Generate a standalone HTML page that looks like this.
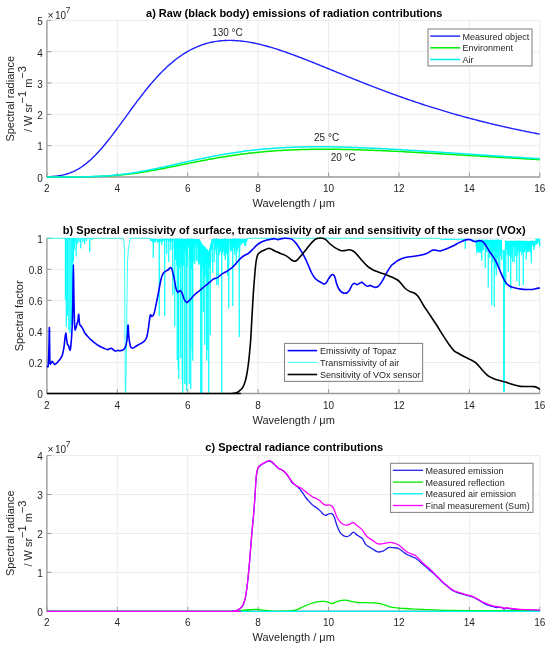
<!DOCTYPE html>
<html><head><meta charset="utf-8"><title>Spectral radiance plots</title>
<style>html,body{margin:0;padding:0;background:#fff;width:550px;height:649px;overflow:hidden}svg text{font-family:'Liberation Sans',Arial,Helvetica,sans-serif}</style>
</head><body>
<svg width="550" height="649" viewBox="0 0 550 649" style="display:block;font-family:'Liberation Sans',Arial,Helvetica,sans-serif"><rect width="550" height="649" fill="#fff"/>
<line x1="117.31" y1="20.4" x2="117.31" y2="177" stroke="#ececec" stroke-width="1"/>
<line x1="187.73" y1="20.4" x2="187.73" y2="177" stroke="#ececec" stroke-width="1"/>
<line x1="258.14" y1="20.4" x2="258.14" y2="177" stroke="#ececec" stroke-width="1"/>
<line x1="328.56" y1="20.4" x2="328.56" y2="177" stroke="#ececec" stroke-width="1"/>
<line x1="398.97" y1="20.4" x2="398.97" y2="177" stroke="#ececec" stroke-width="1"/>
<line x1="469.39" y1="20.4" x2="469.39" y2="177" stroke="#ececec" stroke-width="1"/>
<line x1="539.8" y1="20.4" x2="539.8" y2="177" stroke="#ececec" stroke-width="1"/>
<line x1="46.9" y1="145.68" x2="539.8" y2="145.68" stroke="#ececec" stroke-width="1"/>
<line x1="46.9" y1="114.36" x2="539.8" y2="114.36" stroke="#ececec" stroke-width="1"/>
<line x1="46.9" y1="83.04" x2="539.8" y2="83.04" stroke="#ececec" stroke-width="1"/>
<line x1="46.9" y1="51.72" x2="539.8" y2="51.72" stroke="#ececec" stroke-width="1"/>
<line x1="46.9" y1="20.4" x2="539.8" y2="20.4" stroke="#ececec" stroke-width="1"/>
<line x1="46.9" y1="20.4" x2="46.9" y2="177" stroke="#9a9a9a" stroke-width="1.4"/>
<line x1="46.9" y1="177" x2="539.8" y2="177" stroke="#9a9a9a" stroke-width="1.4"/>
<line x1="46.9" y1="177" x2="46.9" y2="172.5" stroke="#9a9a9a" stroke-width="1"/>
<line x1="117.31" y1="177" x2="117.31" y2="172.5" stroke="#9a9a9a" stroke-width="1"/>
<line x1="187.73" y1="177" x2="187.73" y2="172.5" stroke="#9a9a9a" stroke-width="1"/>
<line x1="258.14" y1="177" x2="258.14" y2="172.5" stroke="#9a9a9a" stroke-width="1"/>
<line x1="328.56" y1="177" x2="328.56" y2="172.5" stroke="#9a9a9a" stroke-width="1"/>
<line x1="398.97" y1="177" x2="398.97" y2="172.5" stroke="#9a9a9a" stroke-width="1"/>
<line x1="469.39" y1="177" x2="469.39" y2="172.5" stroke="#9a9a9a" stroke-width="1"/>
<line x1="539.8" y1="177" x2="539.8" y2="172.5" stroke="#9a9a9a" stroke-width="1"/>
<line x1="46.9" y1="177" x2="51.4" y2="177" stroke="#9a9a9a" stroke-width="1"/>
<line x1="46.9" y1="145.68" x2="51.4" y2="145.68" stroke="#9a9a9a" stroke-width="1"/>
<line x1="46.9" y1="114.36" x2="51.4" y2="114.36" stroke="#9a9a9a" stroke-width="1"/>
<line x1="46.9" y1="83.04" x2="51.4" y2="83.04" stroke="#9a9a9a" stroke-width="1"/>
<line x1="46.9" y1="51.72" x2="51.4" y2="51.72" stroke="#9a9a9a" stroke-width="1"/>
<line x1="46.9" y1="20.4" x2="51.4" y2="20.4" stroke="#9a9a9a" stroke-width="1"/>
<path d="M46.9,176.79 L48.54,176.72 L50.19,176.63 L51.83,176.52 L53.47,176.39 L55.12,176.23 L56.76,176.04 L58.4,175.81 L60.04,175.54 L61.69,175.23 L63.33,174.87 L64.97,174.47 L66.62,174.01 L68.26,173.49 L69.9,172.91 L71.55,172.27 L73.19,171.57 L74.83,170.8 L76.47,169.96 L78.12,169.05 L79.76,168.06 L81.4,167.01 L83.05,165.88 L84.69,164.68 L86.33,163.41 L87.97,162.06 L89.62,160.65 L91.26,159.16 L92.9,157.61 L94.55,155.99 L96.19,154.31 L97.83,152.57 L99.48,150.77 L101.12,148.92 L102.76,147.01 L104.41,145.06 L106.05,143.05 L107.69,141.01 L109.33,138.93 L110.98,136.81 L112.62,134.67 L114.26,132.49 L115.91,130.29 L117.55,128.08 L119.19,125.84 L120.83,123.59 L122.48,121.34 L124.12,119.07 L125.76,116.81 L127.41,114.55 L129.05,112.29 L130.69,110.03 L132.34,107.79 L133.98,105.56 L135.62,103.35 L137.26,101.15 L138.91,98.98 L140.55,96.83 L142.19,94.71 L143.84,92.61 L145.48,90.55 L147.12,88.51 L148.77,86.51 L150.41,84.55 L152.05,82.62 L153.69,80.73 L155.34,78.87 L156.98,77.06 L158.62,75.29 L160.27,73.57 L161.91,71.88 L163.55,70.24 L165.2,68.65 L166.84,67.1 L168.48,65.6 L170.12,64.14 L171.77,62.73 L173.41,61.36 L175.05,60.04 L176.7,58.77 L178.34,57.54 L179.98,56.36 L181.63,55.23 L183.27,54.14 L184.91,53.1 L186.56,52.1 L188.2,51.15 L189.84,50.25 L191.48,49.39 L193.13,48.57 L194.77,47.79 L196.41,47.06 L198.06,46.37 L199.7,45.72 L201.34,45.12 L202.99,44.55 L204.63,44.02 L206.27,43.53 L207.91,43.08 L209.56,42.67 L211.2,42.3 L212.84,41.96 L214.49,41.65 L216.13,41.39 L217.77,41.15 L219.42,40.95 L221.06,40.78 L222.7,40.64 L224.34,40.53 L225.99,40.46 L227.63,40.41 L229.27,40.39 L230.92,40.4 L232.56,40.44 L234.2,40.5 L235.84,40.59 L237.49,40.7 L239.13,40.84 L240.77,41 L242.42,41.18 L244.06,41.39 L245.7,41.62 L247.35,41.87 L248.99,42.14 L250.63,42.42 L252.27,42.73 L253.92,43.06 L255.56,43.4 L257.2,43.76 L258.85,44.14 L260.49,44.53 L262.13,44.94 L263.78,45.36 L265.42,45.8 L267.06,46.25 L268.7,46.71 L270.35,47.19 L271.99,47.67 L273.63,48.17 L275.28,48.68 L276.92,49.2 L278.56,49.74 L280.21,50.28 L281.85,50.83 L283.49,51.39 L285.13,51.95 L286.78,52.53 L288.42,53.11 L290.06,53.7 L291.71,54.3 L293.35,54.9 L294.99,55.51 L296.64,56.13 L298.28,56.75 L299.92,57.37 L301.56,58 L303.21,58.64 L304.85,59.28 L306.49,59.92 L308.14,60.57 L309.78,61.22 L311.42,61.87 L313.07,62.52 L314.71,63.18 L316.35,63.84 L317.99,64.51 L319.64,65.17 L321.28,65.84 L322.92,66.5 L324.57,67.17 L326.21,67.84 L327.85,68.51 L329.5,69.18 L331.14,69.85 L332.78,70.52 L334.42,71.19 L336.07,71.86 L337.71,72.53 L339.35,73.2 L341,73.87 L342.64,74.54 L344.28,75.21 L345.93,75.88 L347.57,76.54 L349.21,77.21 L350.85,77.87 L352.5,78.53 L354.14,79.19 L355.78,79.85 L357.43,80.51 L359.07,81.16 L360.71,81.81 L362.36,82.46 L364,83.11 L365.64,83.76 L367.28,84.4 L368.93,85.04 L370.57,85.68 L372.21,86.32 L373.86,86.95 L375.5,87.58 L377.14,88.21 L378.79,88.84 L380.43,89.46 L382.07,90.08 L383.71,90.7 L385.36,91.31 L387,91.92 L388.64,92.53 L390.29,93.13 L391.93,93.73 L393.57,94.33 L395.22,94.93 L396.86,95.52 L398.5,96.11 L400.14,96.69 L401.79,97.27 L403.43,97.85 L405.07,98.43 L406.72,99 L408.36,99.57 L410,100.13 L411.65,100.69 L413.29,101.25 L414.93,101.8 L416.57,102.36 L418.22,102.9 L419.86,103.45 L421.5,103.99 L423.15,104.52 L424.79,105.06 L426.43,105.59 L428.08,106.11 L429.72,106.64 L431.36,107.16 L433,107.67 L434.65,108.18 L436.29,108.69 L437.93,109.2 L439.58,109.7 L441.22,110.2 L442.86,110.69 L444.51,111.18 L446.15,111.67 L447.79,112.16 L449.43,112.64 L451.08,113.11 L452.72,113.59 L454.36,114.06 L456.01,114.53 L457.65,114.99 L459.29,115.45 L460.94,115.91 L462.58,116.36 L464.22,116.81 L465.87,117.26 L467.51,117.7 L469.15,118.14 L470.79,118.58 L472.44,119.01 L474.08,119.44 L475.72,119.87 L477.37,120.29 L479.01,120.71 L480.65,121.13 L482.29,121.54 L483.94,121.95 L485.58,122.36 L487.22,122.77 L488.87,123.17 L490.51,123.57 L492.15,123.96 L493.8,124.35 L495.44,124.74 L497.08,125.13 L498.72,125.51 L500.37,125.89 L502.01,126.27 L503.65,126.64 L505.3,127.01 L506.94,127.38 L508.58,127.75 L510.23,128.11 L511.87,128.47 L513.51,128.83 L515.15,129.18 L516.8,129.53 L518.44,129.88 L520.08,130.23 L521.73,130.57 L523.37,130.91 L525.01,131.25 L526.66,131.58 L528.3,131.91 L529.94,132.24 L531.59,132.57 L533.23,132.89 L534.87,133.21 L536.51,133.53 L538.16,133.85 L539.8,134.16" fill="none" stroke="#1f1fff" stroke-width="1.4"/>
<path d="M46.9,177 L48.54,177 L50.19,177 L51.83,177 L53.47,177 L55.12,177 L56.76,177 L58.4,177 L60.04,176.99 L61.69,176.99 L63.33,176.99 L64.97,176.99 L66.62,176.98 L68.26,176.98 L69.9,176.97 L71.55,176.97 L73.19,176.96 L74.83,176.95 L76.47,176.94 L78.12,176.92 L79.76,176.91 L81.4,176.89 L83.05,176.87 L84.69,176.84 L86.33,176.81 L87.97,176.78 L89.62,176.75 L91.26,176.71 L92.9,176.66 L94.55,176.61 L96.19,176.56 L97.83,176.5 L99.48,176.43 L101.12,176.36 L102.76,176.28 L104.41,176.2 L106.05,176.11 L107.69,176.01 L109.33,175.91 L110.98,175.79 L112.62,175.67 L114.26,175.55 L115.91,175.41 L117.55,175.27 L119.19,175.12 L120.83,174.96 L122.48,174.8 L124.12,174.62 L125.76,174.44 L127.41,174.25 L129.05,174.06 L130.69,173.85 L132.34,173.64 L133.98,173.42 L135.62,173.2 L137.26,172.96 L138.91,172.72 L140.55,172.47 L142.19,172.22 L143.84,171.96 L145.48,171.69 L147.12,171.42 L148.77,171.14 L150.41,170.86 L152.05,170.57 L153.69,170.27 L155.34,169.98 L156.98,169.67 L158.62,169.37 L160.27,169.06 L161.91,168.74 L163.55,168.42 L165.2,168.1 L166.84,167.78 L168.48,167.45 L170.12,167.13 L171.77,166.8 L173.41,166.46 L175.05,166.13 L176.7,165.8 L178.34,165.46 L179.98,165.13 L181.63,164.79 L183.27,164.46 L184.91,164.13 L186.56,163.79 L188.2,163.46 L189.84,163.13 L191.48,162.8 L193.13,162.47 L194.77,162.14 L196.41,161.81 L198.06,161.49 L199.7,161.17 L201.34,160.85 L202.99,160.54 L204.63,160.22 L206.27,159.91 L207.91,159.61 L209.56,159.3 L211.2,159 L212.84,158.71 L214.49,158.41 L216.13,158.12 L217.77,157.84 L219.42,157.56 L221.06,157.28 L222.7,157.01 L224.34,156.74 L225.99,156.48 L227.63,156.22 L229.27,155.97 L230.92,155.72 L232.56,155.47 L234.2,155.23 L235.84,155 L237.49,154.77 L239.13,154.54 L240.77,154.32 L242.42,154.1 L244.06,153.89 L245.7,153.69 L247.35,153.49 L248.99,153.29 L250.63,153.1 L252.27,152.91 L253.92,152.73 L255.56,152.56 L257.2,152.39 L258.85,152.22 L260.49,152.06 L262.13,151.9 L263.78,151.75 L265.42,151.61 L267.06,151.47 L268.7,151.33 L270.35,151.2 L271.99,151.07 L273.63,150.95 L275.28,150.83 L276.92,150.72 L278.56,150.61 L280.21,150.5 L281.85,150.41 L283.49,150.31 L285.13,150.22 L286.78,150.13 L288.42,150.05 L290.06,149.97 L291.71,149.9 L293.35,149.83 L294.99,149.77 L296.64,149.71 L298.28,149.65 L299.92,149.6 L301.56,149.55 L303.21,149.5 L304.85,149.46 L306.49,149.42 L308.14,149.39 L309.78,149.36 L311.42,149.33 L313.07,149.3 L314.71,149.28 L316.35,149.27 L317.99,149.25 L319.64,149.24 L321.28,149.23 L322.92,149.23 L324.57,149.23 L326.21,149.23 L327.85,149.23 L329.5,149.24 L331.14,149.25 L332.78,149.27 L334.42,149.28 L336.07,149.3 L337.71,149.32 L339.35,149.34 L341,149.37 L342.64,149.4 L344.28,149.43 L345.93,149.46 L347.57,149.5 L349.21,149.53 L350.85,149.57 L352.5,149.62 L354.14,149.66 L355.78,149.71 L357.43,149.75 L359.07,149.8 L360.71,149.85 L362.36,149.91 L364,149.96 L365.64,150.02 L367.28,150.08 L368.93,150.14 L370.57,150.2 L372.21,150.26 L373.86,150.33 L375.5,150.39 L377.14,150.46 L378.79,150.53 L380.43,150.6 L382.07,150.67 L383.71,150.75 L385.36,150.82 L387,150.9 L388.64,150.97 L390.29,151.05 L391.93,151.13 L393.57,151.21 L395.22,151.29 L396.86,151.37 L398.5,151.45 L400.14,151.54 L401.79,151.62 L403.43,151.71 L405.07,151.79 L406.72,151.88 L408.36,151.97 L410,152.06 L411.65,152.15 L413.29,152.24 L414.93,152.33 L416.57,152.42 L418.22,152.51 L419.86,152.6 L421.5,152.69 L423.15,152.79 L424.79,152.88 L426.43,152.97 L428.08,153.07 L429.72,153.16 L431.36,153.26 L433,153.35 L434.65,153.45 L436.29,153.55 L437.93,153.64 L439.58,153.74 L441.22,153.84 L442.86,153.94 L444.51,154.03 L446.15,154.13 L447.79,154.23 L449.43,154.33 L451.08,154.43 L452.72,154.52 L454.36,154.62 L456.01,154.72 L457.65,154.82 L459.29,154.92 L460.94,155.02 L462.58,155.12 L464.22,155.22 L465.87,155.32 L467.51,155.42 L469.15,155.52 L470.79,155.61 L472.44,155.71 L474.08,155.81 L475.72,155.91 L477.37,156.01 L479.01,156.11 L480.65,156.21 L482.29,156.31 L483.94,156.41 L485.58,156.5 L487.22,156.6 L488.87,156.7 L490.51,156.8 L492.15,156.9 L493.8,156.99 L495.44,157.09 L497.08,157.19 L498.72,157.29 L500.37,157.38 L502.01,157.48 L503.65,157.58 L505.3,157.67 L506.94,157.77 L508.58,157.87 L510.23,157.96 L511.87,158.06 L513.51,158.15 L515.15,158.25 L516.8,158.34 L518.44,158.44 L520.08,158.53 L521.73,158.62 L523.37,158.72 L525.01,158.81 L526.66,158.9 L528.3,159 L529.94,159.09 L531.59,159.18 L533.23,159.27 L534.87,159.36 L536.51,159.45 L538.16,159.55 L539.8,159.64" fill="none" stroke="#00ee00" stroke-width="1.5"/>
<path d="M46.9,177 L48.54,177 L50.19,177 L51.83,177 L53.47,177 L55.12,177 L56.76,177 L58.4,176.99 L60.04,176.99 L61.69,176.99 L63.33,176.99 L64.97,176.98 L66.62,176.98 L68.26,176.97 L69.9,176.96 L71.55,176.96 L73.19,176.94 L74.83,176.93 L76.47,176.92 L78.12,176.9 L79.76,176.88 L81.4,176.85 L83.05,176.83 L84.69,176.79 L86.33,176.76 L87.97,176.72 L89.62,176.67 L91.26,176.62 L92.9,176.57 L94.55,176.51 L96.19,176.44 L97.83,176.36 L99.48,176.28 L101.12,176.19 L102.76,176.1 L104.41,176 L106.05,175.88 L107.69,175.77 L109.33,175.64 L110.98,175.5 L112.62,175.36 L114.26,175.21 L115.91,175.05 L117.55,174.88 L119.19,174.7 L120.83,174.51 L122.48,174.31 L124.12,174.11 L125.76,173.89 L127.41,173.67 L129.05,173.44 L130.69,173.2 L132.34,172.95 L133.98,172.7 L135.62,172.44 L137.26,172.16 L138.91,171.89 L140.55,171.6 L142.19,171.31 L143.84,171.01 L145.48,170.7 L147.12,170.39 L148.77,170.07 L150.41,169.74 L152.05,169.41 L153.69,169.08 L155.34,168.74 L156.98,168.4 L158.62,168.05 L160.27,167.7 L161.91,167.34 L163.55,166.99 L165.2,166.63 L166.84,166.26 L168.48,165.9 L170.12,165.53 L171.77,165.16 L173.41,164.79 L175.05,164.42 L176.7,164.05 L178.34,163.68 L179.98,163.31 L181.63,162.94 L183.27,162.57 L184.91,162.2 L186.56,161.84 L188.2,161.47 L189.84,161.11 L191.48,160.75 L193.13,160.39 L194.77,160.03 L196.41,159.67 L198.06,159.32 L199.7,158.97 L201.34,158.63 L202.99,158.29 L204.63,157.95 L206.27,157.61 L207.91,157.28 L209.56,156.96 L211.2,156.64 L212.84,156.32 L214.49,156.01 L216.13,155.7 L217.77,155.39 L219.42,155.09 L221.06,154.8 L222.7,154.51 L224.34,154.23 L225.99,153.95 L227.63,153.68 L229.27,153.41 L230.92,153.15 L232.56,152.89 L234.2,152.64 L235.84,152.39 L237.49,152.15 L239.13,151.92 L240.77,151.69 L242.42,151.46 L244.06,151.25 L245.7,151.03 L247.35,150.83 L248.99,150.63 L250.63,150.43 L252.27,150.24 L253.92,150.06 L255.56,149.88 L257.2,149.7 L258.85,149.54 L260.49,149.37 L262.13,149.22 L263.78,149.07 L265.42,148.92 L267.06,148.78 L268.7,148.64 L270.35,148.51 L271.99,148.39 L273.63,148.27 L275.28,148.16 L276.92,148.05 L278.56,147.94 L280.21,147.84 L281.85,147.75 L283.49,147.66 L285.13,147.57 L286.78,147.49 L288.42,147.42 L290.06,147.35 L291.71,147.28 L293.35,147.22 L294.99,147.16 L296.64,147.11 L298.28,147.06 L299.92,147.01 L301.56,146.97 L303.21,146.94 L304.85,146.9 L306.49,146.87 L308.14,146.85 L309.78,146.83 L311.42,146.81 L313.07,146.8 L314.71,146.79 L316.35,146.78 L317.99,146.78 L319.64,146.78 L321.28,146.78 L322.92,146.79 L324.57,146.8 L326.21,146.81 L327.85,146.83 L329.5,146.85 L331.14,146.87 L332.78,146.9 L334.42,146.92 L336.07,146.95 L337.71,146.99 L339.35,147.02 L341,147.06 L342.64,147.1 L344.28,147.15 L345.93,147.19 L347.57,147.24 L349.21,147.29 L350.85,147.34 L352.5,147.4 L354.14,147.45 L355.78,147.51 L357.43,147.57 L359.07,147.64 L360.71,147.7 L362.36,147.77 L364,147.84 L365.64,147.91 L367.28,147.98 L368.93,148.05 L370.57,148.13 L372.21,148.2 L373.86,148.28 L375.5,148.36 L377.14,148.44 L378.79,148.53 L380.43,148.61 L382.07,148.69 L383.71,148.78 L385.36,148.87 L387,148.96 L388.64,149.05 L390.29,149.14 L391.93,149.23 L393.57,149.32 L395.22,149.42 L396.86,149.51 L398.5,149.61 L400.14,149.7 L401.79,149.8 L403.43,149.9 L405.07,150 L406.72,150.1 L408.36,150.2 L410,150.3 L411.65,150.4 L413.29,150.5 L414.93,150.6 L416.57,150.71 L418.22,150.81 L419.86,150.92 L421.5,151.02 L423.15,151.13 L424.79,151.23 L426.43,151.34 L428.08,151.45 L429.72,151.55 L431.36,151.66 L433,151.77 L434.65,151.87 L436.29,151.98 L437.93,152.09 L439.58,152.2 L441.22,152.31 L442.86,152.42 L444.51,152.53 L446.15,152.64 L447.79,152.75 L449.43,152.85 L451.08,152.96 L452.72,153.07 L454.36,153.18 L456.01,153.29 L457.65,153.4 L459.29,153.51 L460.94,153.62 L462.58,153.73 L464.22,153.84 L465.87,153.95 L467.51,154.06 L469.15,154.17 L470.79,154.28 L472.44,154.39 L474.08,154.5 L475.72,154.61 L477.37,154.72 L479.01,154.83 L480.65,154.93 L482.29,155.04 L483.94,155.15 L485.58,155.26 L487.22,155.37 L488.87,155.48 L490.51,155.58 L492.15,155.69 L493.8,155.8 L495.44,155.9 L497.08,156.01 L498.72,156.12 L500.37,156.22 L502.01,156.33 L503.65,156.43 L505.3,156.54 L506.94,156.64 L508.58,156.75 L510.23,156.85 L511.87,156.96 L513.51,157.06 L515.15,157.16 L516.8,157.27 L518.44,157.37 L520.08,157.47 L521.73,157.57 L523.37,157.68 L525.01,157.78 L526.66,157.88 L528.3,157.98 L529.94,158.08 L531.59,158.18 L533.23,158.28 L534.87,158.38 L536.51,158.48 L538.16,158.57 L539.8,158.67" fill="none" stroke="#00f0f0" stroke-width="1.5"/>
<text x="42.7" y="181.8" text-anchor="end" font-size="10" fill="#262626">0</text>
<text x="42.7" y="150.48" text-anchor="end" font-size="10" fill="#262626">1</text>
<text x="42.7" y="119.16" text-anchor="end" font-size="10" fill="#262626">2</text>
<text x="42.7" y="87.84" text-anchor="end" font-size="10" fill="#262626">3</text>
<text x="42.7" y="56.52" text-anchor="end" font-size="10" fill="#262626">4</text>
<text x="42.7" y="25.2" text-anchor="end" font-size="10" fill="#262626">5</text>
<text x="46.9" y="191.8" text-anchor="middle" font-size="10" fill="#262626">2</text>
<text x="117.31" y="191.8" text-anchor="middle" font-size="10" fill="#262626">4</text>
<text x="187.73" y="191.8" text-anchor="middle" font-size="10" fill="#262626">6</text>
<text x="258.14" y="191.8" text-anchor="middle" font-size="10" fill="#262626">8</text>
<text x="328.56" y="191.8" text-anchor="middle" font-size="10" fill="#262626">10</text>
<text x="398.97" y="191.8" text-anchor="middle" font-size="10" fill="#262626">12</text>
<text x="469.39" y="191.8" text-anchor="middle" font-size="10" fill="#262626">14</text>
<text x="539.8" y="191.8" text-anchor="middle" font-size="10" fill="#262626">16</text>
<text x="293.65" y="207" text-anchor="middle" font-size="11" fill="#262626">Wavelength / μm</text>
<text x="294.25" y="16.5" text-anchor="middle" font-size="11" font-weight="bold" fill="#000">a) Raw (black body) emissions of radiation contributions</text>
<text transform="translate(13.9,98.8) rotate(-90)" text-anchor="middle" font-size="11" fill="#262626">Spectral radiance</text>
<text transform="translate(32.3,99.1) rotate(-90)" text-anchor="middle" font-size="11" fill="#262626">/ W sr<tspan dy="-6" font-size="11">−1</tspan><tspan dy="6"> m</tspan><tspan dy="-6">−3</tspan></text>
<text x="47.4" y="18.6" font-size="10.5" fill="#262626">×</text>
<text x="55.0" y="19" font-size="10" fill="#262626">10</text>
<text x="65.7" y="13" font-size="8.3" fill="#262626">7</text>
<text x="227.5" y="35.5" text-anchor="middle" font-size="10" fill="#262626">130 °C</text>
<text x="314" y="140.7" font-size="10" fill="#262626">25 °C</text>
<text x="330.7" y="160.8" font-size="10" fill="#262626">20 °C</text>
<rect x="428" y="29" width="104" height="36.9" fill="#fff" stroke="#888" stroke-width="1.1"/>
<line x1="430.2" y1="36.1" x2="460.2" y2="36.1" stroke="#1f1fff" stroke-width="1.4"/>
<text x="462.6" y="39.7" font-size="9" fill="#262626">Measured object</text>
<line x1="430.2" y1="47.8" x2="460.2" y2="47.8" stroke="#00ee00" stroke-width="1.5"/>
<text x="462.6" y="51.4" font-size="9" fill="#262626">Environment</text>
<line x1="430.2" y1="59.5" x2="460.2" y2="59.5" stroke="#00f0f0" stroke-width="1.5"/>
<text x="462.6" y="63.1" font-size="9" fill="#262626">Air</text>
<line x1="117.31" y1="238.3" x2="117.31" y2="393.5" stroke="#ececec" stroke-width="1"/>
<line x1="187.73" y1="238.3" x2="187.73" y2="393.5" stroke="#ececec" stroke-width="1"/>
<line x1="258.14" y1="238.3" x2="258.14" y2="393.5" stroke="#ececec" stroke-width="1"/>
<line x1="328.56" y1="238.3" x2="328.56" y2="393.5" stroke="#ececec" stroke-width="1"/>
<line x1="398.97" y1="238.3" x2="398.97" y2="393.5" stroke="#ececec" stroke-width="1"/>
<line x1="469.39" y1="238.3" x2="469.39" y2="393.5" stroke="#ececec" stroke-width="1"/>
<line x1="539.8" y1="238.3" x2="539.8" y2="393.5" stroke="#ececec" stroke-width="1"/>
<line x1="46.9" y1="362.46" x2="539.8" y2="362.46" stroke="#ececec" stroke-width="1"/>
<line x1="46.9" y1="331.42" x2="539.8" y2="331.42" stroke="#ececec" stroke-width="1"/>
<line x1="46.9" y1="300.38" x2="539.8" y2="300.38" stroke="#ececec" stroke-width="1"/>
<line x1="46.9" y1="269.34" x2="539.8" y2="269.34" stroke="#ececec" stroke-width="1"/>
<line x1="46.9" y1="238.3" x2="539.8" y2="238.3" stroke="#ececec" stroke-width="1"/>
<line x1="46.9" y1="238.3" x2="46.9" y2="393.5" stroke="#9a9a9a" stroke-width="1.4"/>
<line x1="46.9" y1="393.5" x2="539.8" y2="393.5" stroke="#9a9a9a" stroke-width="1.4"/>
<line x1="46.9" y1="393.5" x2="46.9" y2="389" stroke="#9a9a9a" stroke-width="1"/>
<line x1="117.31" y1="393.5" x2="117.31" y2="389" stroke="#9a9a9a" stroke-width="1"/>
<line x1="187.73" y1="393.5" x2="187.73" y2="389" stroke="#9a9a9a" stroke-width="1"/>
<line x1="258.14" y1="393.5" x2="258.14" y2="389" stroke="#9a9a9a" stroke-width="1"/>
<line x1="328.56" y1="393.5" x2="328.56" y2="389" stroke="#9a9a9a" stroke-width="1"/>
<line x1="398.97" y1="393.5" x2="398.97" y2="389" stroke="#9a9a9a" stroke-width="1"/>
<line x1="469.39" y1="393.5" x2="469.39" y2="389" stroke="#9a9a9a" stroke-width="1"/>
<line x1="539.8" y1="393.5" x2="539.8" y2="389" stroke="#9a9a9a" stroke-width="1"/>
<line x1="46.9" y1="393.5" x2="51.4" y2="393.5" stroke="#9a9a9a" stroke-width="1"/>
<line x1="46.9" y1="362.46" x2="51.4" y2="362.46" stroke="#9a9a9a" stroke-width="1"/>
<line x1="46.9" y1="331.42" x2="51.4" y2="331.42" stroke="#9a9a9a" stroke-width="1"/>
<line x1="46.9" y1="300.38" x2="51.4" y2="300.38" stroke="#9a9a9a" stroke-width="1"/>
<line x1="46.9" y1="269.34" x2="51.4" y2="269.34" stroke="#9a9a9a" stroke-width="1"/>
<line x1="46.9" y1="238.3" x2="51.4" y2="238.3" stroke="#9a9a9a" stroke-width="1"/>
<path d="M46.9,238.3 L65,238.3 L65.3,238.3 L65.4,300 L65.5,238.3 L66.2,238.3 L66.3,327 L66.4,238.3 L67.5,238.3 L67.6,316 L67.7,238.3 L68.8,238.3 L68.9,330 L69,238.3 L70,238.3 L70.1,333 L70.2,238.3 L71.2,238.3 L71.3,325 L71.4,238.3 L72.4,238.3 L72.5,300 L72.6,238.3 L73.4,238.3 L73.5,262 L73.6,238.3 L74.2,238.3 L74.3,250 L74.4,238.3 L73.95,238.3 L74.3,246 L74.65,238.3 L74.65,238.3 L75,243 L75.35,238.3 L75.85,238.3 L76.2,256 L76.55,238.3 L77.15,238.3 L77.5,244 L77.85,238.3 L78.65,238.3 L79,242 L79.35,238.3 L80.45,238.3 L80.8,248.3 L81.15,238.3 L82.65,238.3 L83,242 L83.35,238.3 L84.35,238.3 L84.7,244 L85.05,238.3 L86.15,238.3 L86.5,241 L86.85,238.3 L89.35,238.3 L89.7,252 L90.05,238.3 L91.65,238.3 L92,240 L92.35,238.3 L123,238.3 L124,241 L124.5,250 L124.8,300 L125.2,370 L125.4,393.5 L125.7,393.5 L126.2,370 L127,300 L127.5,262 L128.3,250 L129.5,242 L130.5,238.3 L150,238.3 L150.5,238.68 L150.75,240.97 L151,239.18 L151.25,240.62 L151.5,238.7 L151.75,241.07 L152,239.01 L152.25,240.79 L152.5,238.8 L152.75,241.83 L153,238.76 L153.25,258 L153.5,239.02 L153.75,241.9 L154,238.95 L154.25,239.05 L154.5,238.9 L154.75,242.47 L155,238.93 L155.25,241.18 L155.5,239.02 L155.75,238.96 L156,238.73 L156.25,239.12 L156.5,238.76 L156.75,239.8 L157,239.11 L157.25,243 L157.5,239.11 L157.75,242.02 L158,239.02 L158.25,241.27 L158.5,239.28 L158.75,241.35 L159,239.09 L159.25,316 L159.5,239.29 L159.75,242.58 L160,238.79 L160.25,241.52 L160.5,239.19 L160.75,239.75 L161,239.25 L161.25,239.16 L161.5,239.32 L161.75,245 L162,238.85 L162.25,240.33 L162.5,238.85 L162.75,242.04 L163,239.34 L163.25,239.68 L163.5,238.77 L163.75,240.64 L164,239.4 L164.25,240.37 L164.5,239.31 L164.75,316 L165,238.71 L165.25,239.9 L165.5,238.79 L165.75,240.13 L166,239.18 L166.25,241.7 L166.5,238.81 L166.75,254 L167,238.68 L167.25,239.12 L167.5,239.27 L167.75,239.56 L168,238.94 L168.25,240.56 L168.5,239.23 L168.75,262 L169,238.7 L169.25,241.28 L169.5,238.92 L169.75,240.46 L170,239.15 L170.25,239.9 L170.5,238.61 L170.75,250 L171,238.76 L171.25,242.17 L171.5,239.15 L171.75,240.36 L172,239.33 L172.25,241.27 L172.5,239.37 L172.75,295 L173,238.69 L173.25,239.86 L173.5,239 L173.75,240.12 L174,239.21 L174.25,248.21 L174.5,239 L174.75,326.4 L175,239.15 L175.25,259.83 L175.5,238.75 L175.75,256.57 L176,238.66 L176.25,244.47 L176.5,238.68 L176.75,265.66 L177,238.63 L177.25,360 L177.5,239.04 L177.75,247.14 L178,239.01 L178.25,370 L178.5,239.05 L178.75,379 L179,238.72 L179.25,267.5 L179.5,238.75 L179.75,245.43 L180,238.76 L180.25,248.88 L180.5,239.27 L180.75,358 L181,239.39 L181.25,262.1 L181.5,239.34 L181.75,264.72 L182,238.68 L182.25,380 L182.5,238.65 L182.75,394 L183,239.36 L183.25,251.62 L183.5,238.97 L183.75,265.35 L184,239.21 L184.25,242.84 L184.5,238.86 L184.75,384 L185,238.97 L185.25,252.52 L185.5,239.01 L185.75,247.93 L186,238.94 L186.25,385 L186.5,239.08 L186.75,391 L187,238.61 L187.25,266.2 L187.5,239.16 L187.75,245.86 L188,239.28 L188.25,245.28 L188.5,238.75 L188.75,247.37 L189,238.96 L189.25,384 L189.5,239.19 L189.75,248.3 L190,238.92 L190.25,260.6 L190.5,238.76 L190.75,389 L191,238.73 L191.25,268.59 L191.5,239.01 L191.75,258.61 L192,238.61 L192.25,350 L192.5,239.31 L192.75,360.6 L193,239.24 L193.25,247.92 L193.5,239.16 L193.75,261.67 L194,239.29 L194.25,247.57 L194.5,239.1 L194.75,263.99 L195,238.92 L195.25,245.18 L195.5,239.08 L195.75,243.66 L196,239 L196.25,260 L196.5,239.39 L196.75,260.67 L197,239.24 L197.25,247.64 L197.5,238.81 L197.75,243.71 L198,239.33 L198.25,262 L198.5,239.2 L198.75,265.04 L199,239.12 L199.25,264.01 L199.5,239.95 L199.75,260.93 L200,240.42 L200.25,252.09 L200.5,241.62 L200.75,394 L201,242.4 L201.25,271.63 L201.5,243.06 L201.75,394 L202,243.91 L202.25,266.93 L202.5,244.71 L202.75,254.51 L203,245.32 L203.25,311.6 L203.5,246.08 L203.75,274.68 L204,246.06 L204.25,269.31 L204.5,246.77 L204.75,345 L205,247.38 L205.25,276.77 L205.5,247.51 L205.75,263.49 L206,248.28 L206.25,262.23 L206.5,249.01 L206.75,360.6 L207,249.5 L207.25,350 L207.5,249.69 L207.75,280.2 L208,250.76 L208.25,260.4 L208.5,251.03 L208.75,394 L209,251.27 L209.25,267.76 L209.5,249.53 L209.75,267.84 L210,247.46 L210.25,335 L210.5,245.43 L210.75,262.76 L211,243.31 L211.25,249.82 L211.5,241.8 L211.75,248.08 L212,239.11 L212.25,248.59 L212.5,239.16 L212.75,273 L213,239.21 L213.25,242.5 L213.5,239.38 L213.75,240.95 L214,238.62 L214.25,262 L214.5,239.09 L214.75,241.26 L215,239.19 L215.25,246.85 L215.5,238.81 L215.75,249.77 L216,238.92 L216.25,254.02 L216.5,238.64 L216.75,284.8 L217,238.76 L217.25,243.1 L217.5,238.9 L217.75,247.21 L218,238.68 L218.25,285.3 L218.5,238.8 L218.75,245.44 L219,239.32 L219.25,255 L219.5,239.04 L219.75,251.19 L220,239.01 L220.25,251.69 L220.5,239.37 L220.75,241.82 L221,239.05 L221.25,250.71 L221.5,239.4 L221.75,393.5 L222,239.11 L222.25,253.34 L222.5,239.25 L222.75,250 L223,238.66 L223.25,251.75 L223.5,239.08 L223.75,247.09 L224,239.21 L224.25,256 L224.5,238.64 L224.75,252.06 L225,239.34 L225.25,260 L225.5,238.73 L225.75,253.2 L226,238.98 L226.25,254.28 L226.5,238.74 L226.75,251.67 L227,239 L227.25,253.34 L227.5,239.09 L227.75,276 L228,238.65 L228.25,246.77 L228.5,239.36 L228.75,308.5 L229,238.94 L229.25,241 L229.5,239.02 L229.75,241.5 L230,239.08 L230.25,250 L230.5,238.89 L230.75,251.63 L231,238.83 L231.25,242.68 L231.5,239.12 L231.75,250.73 L232,239.05 L232.25,250.25 L232.5,238.83 L232.75,306 L233,239.17 L233.25,241.8 L233.5,238.84 L233.75,247.97 L234,238.61 L234.25,250.8 L234.5,238.8 L234.75,255 L235,238.63 L235.25,248.44 L235.5,238.73 L235.75,245.94 L236,239.2 L236.25,265 L236.5,238.91 L236.75,252.51 L237,239.32 L237.25,250 L237.5,239.2 L237.75,243.41 L238,238.64 L238.25,247.64 L238.5,239.39 L238.75,240.99 L239,239.36 L239.25,337 L239.5,238.66 L239.75,251.81 L240,239.32 L240.25,241.31 L240.5,238.94 L240.75,245 L241,238.98 L241.25,240.96 L241.5,239.38 L241.75,243.26 L242,238.79 L242.25,243.5 L242.5,239.02 L242.75,241.05 L243,239.35 L243.25,243.15 L243.5,239.18 L243.75,240.53 L244,238.97 L244.25,241.88 L244.5,239.38 L244.75,246 L245,239.25 L245.25,239.2 L245.5,239.08 L245.75,246 L246,238.69 L246.25,240.55 L246.5,239.1 L246.75,241.89 L247,238.3 L440,238.3 L440.5,239.39 L440.75,239.06 L441,239.35 L441.25,239.49 L441.5,239.13 L441.75,239.38 L442,238.85 L442.25,239.39 L442.5,239.14 L442.75,239.56 L443,239.19 L443.25,239.81 L443.5,238.91 L443.75,240.1 L444,239.07 L444.25,239.75 L444.5,239.24 L444.75,238.95 L445,238.61 L445.25,239.82 L445.5,238.76 L445.75,239.27 L446,238.97 L446.25,239.69 L446.5,238.71 L446.75,239.57 L447,238.91 L447.25,239.78 L447.5,239.06 L447.75,239.12 L448,238.74 L448.25,239.99 L448.5,239.02 L448.75,238.85 L449,238.81 L449.25,239.15 L449.5,239.05 L449.75,239.61 L450,238.87 L450.25,239.5 L450.5,239.11 L450.75,238.91 L451,238.63 L451.25,239.52 L451.5,239.14 L451.75,240 L452,238.72 L452.25,239.07 L452.5,239.37 L452.75,239.77 L453,239.08 L453.25,238.9 L453.5,238.98 L453.75,239.85 L454,238.93 L454.25,239.8 L454.5,239.1 L454.75,239.35 L455,239.15 L455.25,239.85 L455.5,239.21 L455.75,239.65 L456,239.2 L456.25,239.22 L456.5,238.99 L456.75,239.77 L457,239.4 L457.25,239.36 L457.5,239.27 L457.75,238.93 L458,239.28 L458.25,240.5 L458.5,238.93 L458.75,239.53 L459,238.95 L459.25,239.69 L459.5,239.05 L459.75,239.81 L460,239.32 L460.25,239.08 L460.5,239.02 L460.75,238.91 L461,239.02 L461.25,239.74 L461.5,238.95 L461.75,239.17 L462,239.32 L462.25,239.27 L462.5,238.86 L462.75,239.28 L463,238.64 L463.25,239.72 L463.5,239.18 L463.75,239.99 L464,239.32 L464.25,239.99 L464.5,239.19 L464.75,239.84 L465,239.08 L465.25,248.8 L465.5,239.2 L465.75,240.02 L466,238.84 L466.25,239.12 L466.5,239.07 L466.75,239.28 L467,238.66 L467.25,239.31 L467.5,238.7 L467.75,239.05 L468,238.96 L468.25,239.84 L468.5,239 L468.75,239.89 L469,238.92 L469.25,239.03 L469.5,238.64 L469.75,239.95 L470,240.16 L470.25,240 L470.5,240.02 L470.75,240.51 L471,239.79 L471.25,241.06 L471.5,239.85 L471.75,240.85 L472,239.92 L472.25,240.51 L472.5,239.79 L472.75,239.91 L473,239.65 L473.25,240.76 L473.5,240.33 L473.75,239.91 L474,240.37 L474.25,239.99 L474.5,240.13 L474.75,240.64 L475,240.29 L475.25,240.09 L475.5,239.94 L475.75,240.48 L476,240.24 L476.25,246.94 L476.5,239.78 L476.75,253.25 L477,240.2 L477.25,248.03 L477.5,240.05 L477.75,250.53 L478,240.32 L478.25,252.66 L478.5,239.68 L478.75,251.69 L479,240.23 L479.25,251.99 L479.5,239.7 L479.75,251.77 L480,240.03 L480.25,253.14 L480.5,240.36 L480.75,248.36 L481,239.6 L481.25,251.42 L481.5,239.8 L481.75,260.8 L482,239.84 L482.25,250.75 L482.5,239.86 L482.75,246.73 L483,239.65 L483.25,250 L483.5,240.32 L483.75,245.81 L484,240.25 L484.25,243.25 L484.5,239.92 L484.75,243.86 L485,239.89 L485.25,268 L485.5,240.07 L485.75,243.29 L486,239.64 L486.25,249.02 L486.5,239.62 L486.75,252 L487,240.32 L487.25,244.63 L487.5,239.85 L487.75,245.19 L488,240 L488.25,287.3 L488.5,240.35 L488.75,244.63 L489,240.38 L489.25,244.5 L489.5,239.98 L489.75,258 L490,239.77 L490.25,251.59 L490.5,239.84 L490.75,245.47 L491,240.34 L491.25,252.66 L491.5,240.32 L491.75,305 L492,239.76 L492.25,247.91 L492.5,240.27 L492.75,262 L493,239.88 L493.25,251.42 L493.5,239.98 L493.75,248.4 L494,239.74 L494.25,307 L494.5,240.3 L494.75,249.83 L495,240.4 L495.25,268 L495.5,239.76 L495.75,246.69 L496,240.11 L496.25,275.3 L496.5,239.75 L496.75,244.33 L497,240.3 L497.25,258 L497.5,239.64 L497.75,252.16 L498,239.68 L498.25,265 L498.5,240.18 L498.75,245.53 L499,239.85 L499.25,244.26 L499.5,240.32 L499.75,270 L500,240.3 L500.25,251.91 L500.5,240.17 L500.75,256 L501,239.71 L501.25,250.48 L501.5,240.16 L501.75,260 L502,250.75 L502.25,250.5 L502.5,250.36 L502.75,250.5 L503,250.06 L503.25,250.5 L503.5,250.18 L503.75,391.7 L504,250.25 L504.25,391.7 L504.5,250.57 L504.75,250.5 L505,250.16 L505.25,250.5 L505.5,240.74 L505.75,285 L506,240.79 L506.25,245.89 L506.5,241.13 L506.75,249.38 L507,241.23 L507.25,255 L507.5,240.9 L507.75,247.02 L508,241.13 L508.25,271.7 L508.5,241.31 L508.75,251.47 L509,241.07 L509.25,256 L509.5,240.78 L509.75,247.94 L510,240.84 L510.25,254.24 L510.5,241.34 L510.75,289.7 L511,241.13 L511.25,247.75 L511.5,240.82 L511.75,258 L512,241.11 L512.25,248.64 L512.5,240.67 L512.75,262 L513,241.39 L513.25,245.87 L513.5,240.95 L513.75,246.79 L514,241.02 L514.25,262 L514.5,241.02 L514.75,247.31 L515,240.64 L515.25,256 L515.5,241.08 L515.75,245.8 L516,240.83 L516.25,247.22 L516.5,240.8 L516.75,281.3 L517,241.24 L517.25,247.25 L517.5,240.67 L517.75,255 L518,240.83 L518.25,244.64 L518.5,241.2 L518.75,251.39 L519,240.8 L519.25,286 L519.5,240.82 L519.75,250.12 L520,241.04 L520.25,252 L520.5,240.75 L520.75,244.97 L521,241.32 L521.25,244.4 L521.5,241.39 L521.75,255 L522,240.63 L522.25,250.72 L522.5,240.97 L522.75,252.63 L523,241.2 L523.25,285 L523.5,240.91 L523.75,243.77 L524,241.34 L524.25,251.3 L524.5,241 L524.75,252.29 L525,240.74 L525.25,250.29 L525.5,241.04 L525.75,247.24 L526,241.12 L526.25,259.6 L526.5,240.89 L526.75,247.75 L527,241.13 L527.25,252.27 L527.5,241.23 L527.75,250.33 L528,241.01 L528.25,252.03 L528.5,241 L528.75,249.63 L529,241.28 L529.25,249.1 L529.5,241.15 L529.75,251.45 L530,241.02 L530.25,249.28 L530.5,241.36 L530.75,252.79 L531,240.74 L531.25,263.3 L531.5,241.22 L531.75,245.78 L532,240.73 L532.25,245 L532.5,241.09 L532.75,244.93 L533,240.79 L533.25,246.21 L533.5,240.95 L533.75,250 L534,241.22 L534.25,246.45 L534.5,241.23 L534.75,246.07 L535,241.23 L535.25,244.18 L535.5,240.79 L535.75,242.55 L536,238.99 L536.25,244.56 L536.5,238.78 L536.75,242.41 L537,239.06 L537.25,243.64 L537.5,239 L537.75,244.03 L538,238.63 L538.25,242.25 L538.5,239.08 L538.75,240.12 L539,239.17 L539.25,239.52 L539.5,239.06 L539.75,246.4 L539.8,238.3" fill="none" stroke="#00ffff" stroke-width="0.8" stroke-linejoin="miter"/>
<path d="M46.9,367 C47,366.9 47.27,366.73 47.5,366.4 C47.73,366.07 48.05,368.57 48.3,365 C48.55,361.43 48.82,351.2 49,345 C49.18,338.8 49.25,325.2 49.4,327.8 C49.55,330.4 49.63,354.68 49.9,360.6 C50.17,366.52 50.63,363.2 51,363.3 C51.37,363.4 51.73,361.28 52.1,361.2 C52.47,361.12 52.75,362.27 53.2,362.8 C53.65,363.33 54.27,364.32 54.8,364.4 C55.33,364.48 55.87,363.75 56.4,363.3 C56.93,362.85 57.37,362.42 58,361.7 C58.63,360.98 59.48,360.07 60.2,359 C60.92,357.93 61.68,357.18 62.3,355.3 C62.92,353.42 63.45,350.58 63.9,347.7 C64.35,344.82 64.67,340.42 65,338 C65.33,335.58 65.63,333.02 65.9,333.2 C66.17,333.38 66.33,337.22 66.6,339.1 C66.87,340.98 67.17,343.42 67.5,344.5 C67.83,345.58 68.2,344.62 68.6,345.6 C69,346.58 69.52,350.4 69.9,350.4 C70.28,350.4 70.52,349.63 70.9,345.6 C71.28,341.57 71.87,334.3 72.2,326.2 C72.53,318.1 72.7,307.28 72.9,297 C73.1,286.72 73.23,264.5 73.4,264.5 C73.57,264.5 73.68,286.55 73.9,297 C74.12,307.45 74.38,321.98 74.7,327.2 C75.02,332.42 75.43,328.83 75.8,328.3 C76.17,327.77 76.55,325.25 76.9,324 C77.25,322.75 77.6,322.42 77.9,320.8 C78.2,319.18 78.42,313.77 78.7,314.3 C78.98,314.83 79.18,322.02 79.6,324 C80.02,325.98 80.67,325.38 81.2,326.2 C81.73,327.02 82.17,327.73 82.8,328.9 C83.43,330.07 84.1,331.85 85,333.2 C85.9,334.55 87.13,335.83 88.2,337 C89.27,338.17 90.43,339.32 91.4,340.2 C92.37,341.08 92.75,341.38 94,342.3 C95.25,343.22 97.25,344.72 98.9,345.7 C100.55,346.68 102.45,347.55 103.9,348.2 C105.35,348.85 106.58,349.53 107.6,349.6 C108.62,349.67 109.32,348.8 110,348.6 C110.68,348.4 111.05,348.13 111.7,348.4 C112.35,348.67 113.18,349.77 113.9,350.2 C114.62,350.63 115.35,351 116,351 C116.65,351 117.22,350.23 117.8,350.2 C118.38,350.17 118.78,350.78 119.5,350.8 C120.22,350.82 121.32,350.6 122.1,350.3 C122.88,350 123.55,349.85 124.2,349 C124.85,348.15 125.5,347.03 126,345.2 C126.5,343.37 126.87,341.37 127.2,338 C127.53,334.63 127.73,325.33 128,325 C128.27,324.67 128.53,333.08 128.8,336 C129.07,338.92 129.28,340.68 129.6,342.5 C129.92,344.32 130.23,345.95 130.7,346.9 C131.17,347.85 131.68,348.2 132.4,348.2 C133.12,348.2 134.13,347.4 135,346.9 C135.87,346.4 136.77,345.7 137.6,345.2 C138.43,344.7 139.05,344.43 140,343.9 C140.95,343.37 142.25,342.93 143.3,342 C144.35,341.07 145.48,340.35 146.3,338.3 C147.12,336.25 147.55,333.5 148.2,329.7 C148.85,325.9 149.57,317.73 150.2,315.5 C150.83,313.27 151.33,316.72 152,316.3 C152.67,315.88 153.28,316.13 154.2,313 C155.12,309.87 156.33,303.25 157.5,297.5 C158.67,291.75 160.15,282.67 161.2,278.5 C162.25,274.33 162.92,273.78 163.8,272.5 C164.68,271.22 165.72,271.3 166.5,270.8 C167.28,270.3 167.83,270.03 168.5,269.5 C169.17,268.97 169.92,267.6 170.5,267.6 C171.08,267.6 171.42,267.85 172,269.5 C172.58,271.15 173.33,274.33 174,277.5 C174.67,280.67 175.35,286.05 176,288.5 C176.65,290.95 177.18,291.85 177.9,292.2 C178.62,292.55 179.58,290.38 180.3,290.6 C181.02,290.82 181.53,292.02 182.2,293.5 C182.87,294.98 183.57,298 184.3,299.5 C185.03,301 185.9,302.22 186.6,302.5 C187.3,302.78 187.62,302 188.5,301.2 C189.38,300.4 190.77,298.9 191.9,297.7 C193.03,296.5 193.97,295.23 195.3,294 C196.63,292.77 198.3,291.63 199.9,290.3 C201.5,288.97 203.25,287.35 204.9,286 C206.55,284.65 208.37,283.38 209.8,282.2 C211.23,281.02 212.27,279.62 213.5,278.9 C214.73,278.18 215.97,278.58 217.2,277.9 C218.43,277.22 219.6,275.73 220.9,274.8 C222.2,273.87 223.7,273.07 225,272.3 C226.3,271.53 227.47,271.02 228.7,270.2 C229.93,269.38 231.17,268.53 232.4,267.4 C233.63,266.27 234.87,264.78 236.1,263.4 C237.33,262.02 238.57,260.33 239.8,259.1 C241.03,257.87 242.07,256.95 243.5,256 C244.93,255.05 246.97,254.42 248.4,253.4 C249.83,252.38 250.65,251.32 252.1,249.9 C253.55,248.48 255.45,246.25 257.1,244.9 C258.75,243.55 260.37,242.62 262,241.8 C263.63,240.98 265.68,240.37 266.9,240 C268.12,239.63 268.08,239.83 269.3,239.6 C270.52,239.37 272.77,238.6 274.2,238.6 C275.63,238.6 276.67,239.6 277.9,239.6 C279.13,239.6 280.52,238.82 281.6,238.6 C282.68,238.38 283.22,238.32 284.4,238.3 C285.58,238.28 287.43,238.32 288.7,238.5 C289.97,238.68 290.9,238.75 292,239.4 C293.1,240.05 294.22,241.18 295.3,242.4 C296.38,243.62 297.42,245.07 298.5,246.7 C299.58,248.33 300.7,250.28 301.8,252.2 C302.9,254.12 304,255.98 305.1,258.2 C306.2,260.42 307.35,263.12 308.4,265.5 C309.45,267.88 310.4,270.52 311.4,272.5 C312.4,274.48 313.38,276.08 314.4,277.4 C315.42,278.72 316.45,279.6 317.5,280.4 C318.55,281.2 319.62,281.6 320.7,282.2 C321.78,282.8 323.12,283.87 324,284 C324.88,284.13 325.22,283.9 326,283 C326.78,282.1 327.82,279.92 328.7,278.6 C329.58,277.28 330.52,275.75 331.3,275.1 C332.08,274.45 332.77,274.25 333.4,274.7 C334.03,275.15 334.55,276.25 335.1,277.8 C335.65,279.35 336.07,282.13 336.7,284 C337.33,285.87 338.1,287.67 338.9,289 C339.7,290.33 340.52,291.28 341.5,292 C342.48,292.72 343.8,293.22 344.8,293.3 C345.8,293.38 346.68,293.08 347.5,292.5 C348.32,291.92 348.97,290.98 349.7,289.8 C350.43,288.62 351.17,286.48 351.9,285.4 C352.63,284.32 353.28,283.43 354.1,283.3 C354.92,283.17 355.9,284.6 356.8,284.6 C357.7,284.6 358.63,283.67 359.5,283.3 C360.37,282.93 361.18,282.23 362,282.4 C362.82,282.57 363.53,283.65 364.4,284.3 C365.27,284.95 366.28,286.12 367.2,286.3 C368.12,286.48 369,285.37 369.9,285.4 C370.8,285.43 371.6,286.17 372.6,286.5 C373.6,286.83 374.9,287.48 375.9,287.4 C376.9,287.32 377.6,286.97 378.6,286 C379.6,285.03 380.8,283.33 381.9,281.6 C383,279.87 384.12,277.57 385.2,275.6 C386.28,273.63 387.35,271.48 388.4,269.8 C389.45,268.12 390.6,266.53 391.5,265.5 C392.4,264.47 392.97,264.28 393.8,263.6 C394.63,262.92 395.32,262.17 396.5,261.4 C397.68,260.63 399.25,259.68 400.9,259 C402.55,258.32 404.58,257.72 406.4,257.3 C408.22,256.88 409.98,256.75 411.8,256.5 C413.62,256.25 415.48,256.1 417.3,255.8 C419.12,255.5 421.07,255.12 422.7,254.7 C424.33,254.28 425.83,253.85 427.1,253.3 C428.37,252.75 429.3,251.95 430.3,251.4 C431.3,250.85 432.18,250.18 433.1,250 C434.02,249.82 434.8,250.13 435.8,250.3 C436.8,250.47 438.02,251 439.1,251 C440.18,251 441.15,250.65 442.3,250.3 C443.45,249.95 444.78,249.35 446,248.9 C447.22,248.45 448.2,248.22 449.6,247.6 C451,246.98 452.8,246.03 454.4,245.2 C456,244.37 457.6,243.4 459.2,242.6 C460.8,241.8 462.6,240.9 464,240.4 C465.4,239.9 466.5,239.7 467.6,239.6 C468.7,239.5 469.68,239.57 470.6,239.8 C471.52,240.03 472.28,240.7 473.1,241 C473.92,241.3 474.6,241.65 475.5,241.6 C476.4,241.55 477.5,240.8 478.5,240.7 C479.5,240.6 480.5,240.55 481.5,241 C482.5,241.45 483.5,242.2 484.5,243.4 C485.5,244.6 486.53,246.65 487.5,248.2 C488.47,249.75 489.3,251.2 490.3,252.7 C491.3,254.2 492.42,255.45 493.5,257.2 C494.58,258.95 495.82,261.18 496.8,263.2 C497.78,265.22 498.53,267.28 499.4,269.3 C500.27,271.32 501.07,273.3 502,275.3 C502.93,277.3 504,279.7 505,281.3 C506,282.9 506.9,283.95 508,284.9 C509.1,285.85 510.2,286.43 511.6,287 C513,287.57 514.78,287.95 516.4,288.3 C518.02,288.65 519.68,288.9 521.3,289.1 C522.92,289.3 524.5,289.43 526.1,289.5 C527.7,289.57 529.3,289.63 530.9,289.5 C532.5,289.37 534.22,288.97 535.7,288.7 C537.18,288.43 539.12,288.03 539.8,287.9" fill="none" stroke="#0000ff" stroke-width="1.6" stroke-linejoin="round"/>
<path d="M46.9,393.5 C76.58,393.5 194.15,393.52 225,393.5 C255.85,393.48 230.37,393.47 232,393.4 C233.63,393.33 233.88,393.3 234.8,393.1 C235.72,392.9 236.7,392.62 237.5,392.2 C238.3,391.78 238.82,391.25 239.6,390.6 C240.38,389.95 241.48,389.23 242.2,388.3 C242.92,387.37 243.38,386.22 243.9,385 C244.42,383.78 244.87,382.5 245.3,381 C245.73,379.5 246.07,378.25 246.5,376 C246.93,373.75 247.43,370.88 247.9,367.5 C248.37,364.12 248.83,360.33 249.3,355.7 C249.77,351.07 250.28,345.65 250.7,339.7 C251.12,333.75 251.38,327.37 251.8,320 C252.22,312.63 252.73,302.67 253.2,295.5 C253.67,288.33 254.18,282.13 254.6,277 C255.02,271.87 255.33,267.93 255.7,264.7 C256.07,261.47 256.37,259.42 256.8,257.6 C257.23,255.78 257.63,254.78 258.3,253.8 C258.97,252.82 259.77,252.35 260.8,251.7 C261.83,251.05 263.27,250.43 264.5,249.9 C265.73,249.37 267.18,248.7 268.2,248.5 C269.22,248.3 269.58,248.33 270.6,248.7 C271.62,249.07 273.07,250.1 274.3,250.7 C275.53,251.3 276.97,251.83 278,252.3 C279.03,252.77 279.43,253.07 280.5,253.5 C281.57,253.93 283.03,254.22 284.4,254.9 C285.77,255.58 287.43,256.7 288.7,257.6 C289.97,258.5 291,259.7 292,260.3 C293,260.9 293.8,261.28 294.7,261.2 C295.6,261.12 296.22,260.85 297.4,259.8 C298.58,258.75 300.33,256.63 301.8,254.9 C303.27,253.17 304.75,251.22 306.2,249.4 C307.65,247.58 309.05,245.62 310.5,244 C311.95,242.38 313.62,240.67 314.9,239.7 C316.18,238.73 316.93,238.45 318.2,238.2 C319.47,237.95 321.23,237.95 322.5,238.2 C323.77,238.45 324.52,238.73 325.8,239.7 C327.08,240.67 328.75,242.73 330.2,244 C331.65,245.27 333.15,246.4 334.5,247.3 C335.85,248.2 337.13,248.83 338.3,249.4 C339.47,249.97 340.42,250.52 341.5,250.7 C342.58,250.88 343.52,250.65 344.8,250.5 C346.08,250.35 347.75,249.68 349.2,249.8 C350.65,249.92 352.23,250.43 353.5,251.2 C354.77,251.97 355.7,253.23 356.8,254.4 C357.9,255.57 359,256.93 360.1,258.2 C361.2,259.47 362.32,260.82 363.4,262 C364.48,263.18 365.52,264.3 366.6,265.3 C367.68,266.3 368.8,267.22 369.9,268 C371,268.78 372.12,269.45 373.2,270 C374.28,270.55 375.13,270.82 376.4,271.3 C377.67,271.78 379.33,272.4 380.8,272.9 C382.27,273.4 383.75,273.75 385.2,274.3 C386.65,274.85 388.15,275.62 389.5,276.2 C390.85,276.78 391.95,277.17 393.3,277.8 C394.65,278.43 396.33,279.08 397.6,280 C398.87,280.92 399.62,281.88 400.9,283.3 C402.18,284.72 403.85,287.15 405.3,288.5 C406.75,289.85 408.1,290.65 409.6,291.4 C411.1,292.15 412.93,292.22 414.3,293 C415.67,293.78 416.77,294.9 417.8,296.1 C418.83,297.3 419.62,298.77 420.5,300.2 C421.38,301.63 421.58,302.32 423.1,304.7 C424.62,307.08 427.43,311.23 429.6,314.5 C431.77,317.77 433.92,320.9 436.1,324.3 C438.28,327.7 440.52,331.5 442.7,334.9 C444.88,338.3 447.3,342.05 449.2,344.7 C451.1,347.35 452.47,349.3 454.1,350.8 C455.73,352.3 457.08,352.62 459,353.7 C460.92,354.78 463.68,356.32 465.6,357.3 C467.52,358.28 468.78,358.67 470.5,359.6 C472.22,360.53 474.02,361.25 475.9,362.9 C477.78,364.55 479.82,367.37 481.8,369.5 C483.78,371.63 485.82,374.17 487.8,375.7 C489.78,377.23 491.73,377.88 493.7,378.7 C495.67,379.52 497.63,380.03 499.6,380.6 C501.57,381.17 503.28,381.43 505.5,382.1 C507.72,382.77 510.43,383.88 512.9,384.6 C515.37,385.32 517.83,386.08 520.3,386.4 C522.77,386.72 525.37,386.47 527.7,386.5 C530.03,386.53 532.67,386.38 534.3,386.6 C535.93,386.82 536.58,387.35 537.5,387.8 C538.42,388.25 539.42,389.05 539.8,389.3" fill="none" stroke="#000" stroke-width="1.6" stroke-linejoin="round"/>
<text x="42.7" y="398.3" text-anchor="end" font-size="10" fill="#262626">0</text>
<text x="42.7" y="367.26" text-anchor="end" font-size="10" fill="#262626">0.2</text>
<text x="42.7" y="336.22" text-anchor="end" font-size="10" fill="#262626">0.4</text>
<text x="42.7" y="305.18" text-anchor="end" font-size="10" fill="#262626">0.6</text>
<text x="42.7" y="274.14" text-anchor="end" font-size="10" fill="#262626">0.8</text>
<text x="42.7" y="243.1" text-anchor="end" font-size="10" fill="#262626">1</text>
<text x="46.9" y="409.3" text-anchor="middle" font-size="10" fill="#262626">2</text>
<text x="117.31" y="409.3" text-anchor="middle" font-size="10" fill="#262626">4</text>
<text x="187.73" y="409.3" text-anchor="middle" font-size="10" fill="#262626">6</text>
<text x="258.14" y="409.3" text-anchor="middle" font-size="10" fill="#262626">8</text>
<text x="328.56" y="409.3" text-anchor="middle" font-size="10" fill="#262626">10</text>
<text x="398.97" y="409.3" text-anchor="middle" font-size="10" fill="#262626">12</text>
<text x="469.39" y="409.3" text-anchor="middle" font-size="10" fill="#262626">14</text>
<text x="539.8" y="409.3" text-anchor="middle" font-size="10" fill="#262626">16</text>
<text x="293.65" y="423.5" text-anchor="middle" font-size="11" fill="#262626">Wavelength / μm</text>
<text x="294.25" y="233.8" text-anchor="middle" font-size="11" font-weight="bold" fill="#000">b) Spectral emissivity of surface, transmissivity of air and sensitivity of the sensor (VOx)</text>
<text transform="translate(22.9,315.9) rotate(-90)" text-anchor="middle" font-size="11" fill="#262626">Spectral factor</text>
<rect x="284.5" y="343.4" width="138.1" height="38" fill="#fff" stroke="#888" stroke-width="1.1"/>
<line x1="287.6" y1="350.6" x2="317.1" y2="350.6" stroke="#0000ff" stroke-width="1.6"/>
<text x="320.1" y="354.2" font-size="9" fill="#262626">Emissivity of Topaz</text>
<line x1="287.6" y1="362.4" x2="317.1" y2="362.4" stroke="#00ffff" stroke-width="0.8"/>
<text x="320.1" y="366" font-size="9" fill="#262626">Transmissivity of air</text>
<line x1="287.6" y1="374.5" x2="317.1" y2="374.5" stroke="#000" stroke-width="1.6"/>
<text x="320.1" y="378.1" font-size="9" fill="#262626">Sensitivity of VOx sensor</text>
<line x1="117.31" y1="455.6" x2="117.31" y2="611.3" stroke="#ececec" stroke-width="1"/>
<line x1="187.73" y1="455.6" x2="187.73" y2="611.3" stroke="#ececec" stroke-width="1"/>
<line x1="258.14" y1="455.6" x2="258.14" y2="611.3" stroke="#ececec" stroke-width="1"/>
<line x1="328.56" y1="455.6" x2="328.56" y2="611.3" stroke="#ececec" stroke-width="1"/>
<line x1="398.97" y1="455.6" x2="398.97" y2="611.3" stroke="#ececec" stroke-width="1"/>
<line x1="469.39" y1="455.6" x2="469.39" y2="611.3" stroke="#ececec" stroke-width="1"/>
<line x1="539.8" y1="455.6" x2="539.8" y2="611.3" stroke="#ececec" stroke-width="1"/>
<line x1="46.9" y1="572.38" x2="539.8" y2="572.38" stroke="#ececec" stroke-width="1"/>
<line x1="46.9" y1="533.45" x2="539.8" y2="533.45" stroke="#ececec" stroke-width="1"/>
<line x1="46.9" y1="494.52" x2="539.8" y2="494.52" stroke="#ececec" stroke-width="1"/>
<line x1="46.9" y1="455.6" x2="539.8" y2="455.6" stroke="#ececec" stroke-width="1"/>
<line x1="46.9" y1="455.6" x2="46.9" y2="611.3" stroke="#9a9a9a" stroke-width="1.4"/>
<line x1="46.9" y1="611.3" x2="539.8" y2="611.3" stroke="#9a9a9a" stroke-width="1.4"/>
<line x1="46.9" y1="611.3" x2="46.9" y2="606.8" stroke="#9a9a9a" stroke-width="1"/>
<line x1="117.31" y1="611.3" x2="117.31" y2="606.8" stroke="#9a9a9a" stroke-width="1"/>
<line x1="187.73" y1="611.3" x2="187.73" y2="606.8" stroke="#9a9a9a" stroke-width="1"/>
<line x1="258.14" y1="611.3" x2="258.14" y2="606.8" stroke="#9a9a9a" stroke-width="1"/>
<line x1="328.56" y1="611.3" x2="328.56" y2="606.8" stroke="#9a9a9a" stroke-width="1"/>
<line x1="398.97" y1="611.3" x2="398.97" y2="606.8" stroke="#9a9a9a" stroke-width="1"/>
<line x1="469.39" y1="611.3" x2="469.39" y2="606.8" stroke="#9a9a9a" stroke-width="1"/>
<line x1="539.8" y1="611.3" x2="539.8" y2="606.8" stroke="#9a9a9a" stroke-width="1"/>
<line x1="46.9" y1="611.3" x2="51.4" y2="611.3" stroke="#9a9a9a" stroke-width="1"/>
<line x1="46.9" y1="572.38" x2="51.4" y2="572.38" stroke="#9a9a9a" stroke-width="1"/>
<line x1="46.9" y1="533.45" x2="51.4" y2="533.45" stroke="#9a9a9a" stroke-width="1"/>
<line x1="46.9" y1="494.52" x2="51.4" y2="494.52" stroke="#9a9a9a" stroke-width="1"/>
<line x1="46.9" y1="455.6" x2="51.4" y2="455.6" stroke="#9a9a9a" stroke-width="1"/>
<path d="M46.9,611.3 C76.58,611.3 194.1,611.32 225,611.3 C255.9,611.28 230.47,611.28 232.3,611.2 C234.13,611.12 234.77,611.17 236,610.8 C237.23,610.43 238.57,609.87 239.7,609 C240.83,608.13 241.92,607.2 242.8,605.6 C243.68,604 244.38,601.87 245,599.4 C245.62,596.93 246,594.28 246.5,590.8 C247,587.32 247.55,582.62 248,578.5 C248.45,574.38 248.83,570.22 249.2,566.1 C249.57,561.98 249.85,558.1 250.2,553.8 C250.55,549.5 250.98,544.22 251.3,540.3 C251.62,536.38 251.75,534.18 252.1,530.3 C252.45,526.42 252.92,522.72 253.4,517 C253.88,511.28 254.6,501.77 255,496 C255.4,490.23 255.5,486.3 255.8,482.4 C256.1,478.5 256.38,475.07 256.8,472.6 C257.22,470.13 257.63,468.83 258.3,467.6 C258.97,466.37 259.77,465.98 260.8,465.2 C261.83,464.42 263.48,463.48 264.5,462.9 C265.52,462.32 266.1,462.02 266.9,461.7 C267.7,461.38 268.47,460.93 269.3,461 C270.13,461.07 270.97,461.45 271.9,462.1 C272.83,462.75 273.78,463.82 274.9,464.9 C276.02,465.98 277.37,467.7 278.6,468.6 C279.83,469.5 281.07,469.48 282.3,470.3 C283.53,471.12 284.77,472.1 286,473.5 C287.23,474.9 288.7,477.2 289.7,478.7 C290.7,480.2 291.18,481.52 292,482.5 C292.82,483.48 293.55,483.77 294.6,484.6 C295.65,485.43 297.07,486.27 298.3,487.5 C299.53,488.73 300.77,490.33 302,492 C303.23,493.67 304.47,495.85 305.7,497.5 C306.93,499.15 308.27,500.67 309.4,501.9 C310.53,503.13 311.27,503.88 312.5,504.9 C313.73,505.92 315.47,506.97 316.8,508 C318.13,509.03 319.55,510.2 320.5,511.1 C321.45,512 321.67,512.68 322.5,513.4 C323.33,514.12 324.48,515.3 325.5,515.4 C326.52,515.5 327.57,514.3 328.6,514 C329.63,513.7 330.77,513.13 331.7,513.6 C332.63,514.07 333.38,514.98 334.2,516.8 C335.02,518.62 335.68,521.98 336.6,524.5 C337.52,527.02 338.57,530.05 339.7,531.9 C340.83,533.75 342.17,534.82 343.4,535.6 C344.63,536.38 345.97,536.7 347.1,536.6 C348.23,536.5 349.17,535.73 350.2,535 C351.23,534.27 352.27,532.27 353.3,532.2 C354.33,532.13 355.37,533.87 356.4,534.6 C357.43,535.33 358.48,535.92 359.5,536.6 C360.52,537.28 361.48,537.42 362.5,538.7 C363.52,539.98 364.47,542.92 365.6,544.3 C366.73,545.68 368.07,546.18 369.3,547 C370.53,547.82 371.77,548.45 373,549.2 C374.23,549.95 375.75,551.03 376.7,551.5 C377.65,551.97 377.55,552.12 378.7,552 C379.85,551.88 381.95,551.52 383.6,550.8 C385.25,550.08 386.95,548.22 388.6,547.7 C390.25,547.18 391.87,547.57 393.5,547.7 C395.13,547.83 396.75,547.78 398.4,548.5 C400.05,549.22 401.95,551 403.4,552 C404.85,553 405.67,553.72 407.1,554.5 C408.53,555.28 410.57,556.08 412,556.7 C413.43,557.32 414.47,557.45 415.7,558.2 C416.93,558.95 417.97,559.97 419.4,561.2 C420.83,562.43 422.65,564.15 424.3,565.6 C425.95,567.05 427.43,568.3 429.3,569.9 C431.17,571.5 433.57,573.4 435.5,575.2 C437.43,577 439.08,578.97 440.9,580.7 C442.72,582.43 444.58,584.05 446.4,585.6 C448.22,587.15 450.17,588.92 451.8,590 C453.43,591.08 454.57,591.47 456.2,592.1 C457.83,592.73 459.78,593.27 461.6,593.8 C463.42,594.33 465.28,594.77 467.1,595.3 C468.92,595.83 470.68,596.25 472.5,597 C474.32,597.75 476.18,598.82 478,599.8 C479.82,600.78 481.9,602.03 483.4,602.9 C484.9,603.77 486.18,604.67 487,605 C487.82,605.33 487.8,604.73 488.3,604.9 C488.8,605.07 489.1,605.72 490,606 C490.9,606.28 492.7,606.35 493.7,606.6 C494.7,606.85 495.08,607.37 496,607.5 C496.92,607.63 498.03,607.3 499.2,607.4 C500.37,607.5 502.18,607.78 503,608.1 C503.82,608.42 503.65,609.3 504.1,609.3 C504.55,609.3 504.33,608.15 505.7,608.1 C507.07,608.05 509.93,608.73 512.3,609 C514.67,609.27 517.18,609.53 519.9,609.7 C522.62,609.87 525.28,609.9 528.6,610 C531.92,610.1 537.93,610.25 539.8,610.3" fill="none" stroke="#2222f0" stroke-width="1.3" stroke-linejoin="round"/>
<path d="M46.9,611.3 C78.42,611.3 204.08,611.35 236,611.3 C267.92,611.25 237.4,611.15 238.4,611 C239.4,610.85 240.73,610.58 242,610.4 C243.27,610.22 244.67,610.03 246,609.9 C247.33,609.77 248.38,609.68 250,609.6 C251.62,609.52 254.03,609.38 255.7,609.4 C257.37,609.42 258.45,609.53 260,609.7 C261.55,609.87 263.33,610.18 265,610.4 C266.67,610.62 268.33,610.85 270,611 C271.67,611.15 273.33,611.25 275,611.3 C276.67,611.35 277.65,611.35 280,611.3 C282.35,611.25 286.37,611.23 289.1,611 C291.83,610.77 293.98,610.65 296.4,609.9 C298.82,609.15 301.18,607.57 303.6,606.5 C306.02,605.43 308.47,604.3 310.9,603.5 C313.33,602.7 315.93,602.05 318.2,601.7 C320.47,601.35 322.68,601.25 324.5,601.4 C326.32,601.55 327.73,602.25 329.1,602.6 C330.47,602.95 331.48,603.65 332.7,603.5 C333.92,603.35 334.88,602.23 336.4,601.7 C337.92,601.17 339.98,600.53 341.8,600.3 C343.62,600.07 345.48,600.07 347.3,600.3 C349.12,600.53 350.88,601.33 352.7,601.7 C354.52,602.07 356.07,602.35 358.2,602.5 C360.33,602.65 363.08,602.55 365.5,602.6 C367.92,602.65 370.95,602.73 372.7,602.8 C374.45,602.87 374.7,602.85 376,603 C377.3,603.15 378.85,603.3 380.5,603.7 C382.15,604.1 384.08,604.82 385.9,605.4 C387.72,605.98 389.28,606.75 391.4,607.2 C393.52,607.65 395.27,607.83 398.6,608.1 C401.93,608.37 406.85,608.53 411.4,608.8 C415.95,609.07 420.45,609.45 425.9,609.7 C431.35,609.95 435.92,610.15 444.1,610.3 C452.28,610.45 459.05,610.5 475,610.6 C490.95,610.7 529,610.85 539.8,610.9" fill="none" stroke="#00ee00" stroke-width="1.3" stroke-linejoin="round"/>
<line x1="46.9" y1="611.3" x2="539.8" y2="611.3" stroke="#00f0f0" stroke-width="1.3"/>
<path d="M46.9,611.3 C76.58,611.3 194.1,611.32 225,611.3 C255.9,611.28 230.47,611.33 232.3,611.2 C234.13,611.07 234.77,610.92 236,610.5 C237.23,610.08 238.57,609.57 239.7,608.7 C240.83,607.83 241.92,606.9 242.8,605.3 C243.68,603.7 244.38,601.57 245,599.1 C245.62,596.63 246,593.98 246.5,590.5 C247,587.02 247.55,582.32 248,578.2 C248.45,574.08 248.83,569.92 249.2,565.8 C249.57,561.68 249.85,557.8 250.2,553.5 C250.55,549.2 250.98,543.92 251.3,540 C251.62,536.08 251.75,533.88 252.1,530 C252.45,526.12 252.92,522.42 253.4,516.7 C253.88,510.98 254.6,501.47 255,495.7 C255.4,489.93 255.5,486 255.8,482.1 C256.1,478.2 256.38,474.77 256.8,472.3 C257.22,469.83 257.63,468.53 258.3,467.3 C258.97,466.07 259.77,465.68 260.8,464.9 C261.83,464.12 263.48,463.18 264.5,462.6 C265.52,462.02 266.1,461.72 266.9,461.4 C267.7,461.08 268.47,460.63 269.3,460.7 C270.13,460.77 270.97,461.15 271.9,461.8 C272.83,462.45 273.78,463.52 274.9,464.6 C276.02,465.68 277.37,467.4 278.6,468.3 C279.83,469.2 281.07,469.18 282.3,470 C283.53,470.82 284.77,471.8 286,473.2 C287.23,474.6 288.47,476.7 289.7,478.4 C290.93,480.1 292.17,482.12 293.4,483.4 C294.63,484.68 295.87,485.33 297.1,486.1 C298.33,486.87 299.57,487.22 300.8,488 C302.03,488.78 303.27,489.83 304.5,490.8 C305.73,491.77 306.87,492.78 308.2,493.8 C309.53,494.82 311.07,496.07 312.5,496.9 C313.93,497.73 315.47,498.08 316.8,498.8 C318.13,499.52 319.55,500.45 320.5,501.2 C321.45,501.95 321.67,502.63 322.5,503.3 C323.33,503.97 324.48,504.95 325.5,505.2 C326.52,505.45 327.57,504.7 328.6,504.8 C329.63,504.9 330.77,504.98 331.7,505.8 C332.63,506.62 333.38,507.92 334.2,509.7 C335.02,511.48 335.68,514.55 336.6,516.5 C337.52,518.45 338.57,520.07 339.7,521.4 C340.83,522.73 342.17,523.88 343.4,524.5 C344.63,525.12 345.97,525.2 347.1,525.1 C348.23,525 349.17,524.3 350.2,523.9 C351.23,523.5 352.27,522.5 353.3,522.7 C354.33,522.9 355.37,524.28 356.4,525.1 C357.43,525.92 358.48,526.77 359.5,527.6 C360.52,528.43 361.48,528.87 362.5,530.1 C363.52,531.33 364.47,533.63 365.6,535 C366.73,536.37 368.07,537.37 369.3,538.3 C370.53,539.23 371.77,539.77 373,540.6 C374.23,541.43 375.55,542.73 376.7,543.3 C377.85,543.87 378.53,543.98 379.9,544 C381.27,544.02 383.25,543.67 384.9,543.4 C386.55,543.13 388.17,542.4 389.8,542.4 C391.43,542.4 393.17,542.93 394.7,543.4 C396.23,543.87 397.55,544.28 399,545.2 C400.45,546.12 402.05,547.77 403.4,548.9 C404.75,550.03 405.67,551.12 407.1,552 C408.53,552.88 410.57,553.58 412,554.2 C413.43,554.82 414.47,554.83 415.7,555.7 C416.93,556.57 417.97,557.97 419.4,559.4 C420.83,560.83 422.65,562.77 424.3,564.3 C425.95,565.83 427.43,566.88 429.3,568.6 C431.17,570.32 433.57,572.68 435.5,574.6 C437.43,576.52 439.08,578.37 440.9,580.1 C442.72,581.83 444.58,583.45 446.4,585 C448.22,586.55 450.17,588.32 451.8,589.4 C453.43,590.48 454.57,590.87 456.2,591.5 C457.83,592.13 459.78,592.65 461.6,593.2 C463.42,593.75 465.28,594.27 467.1,594.8 C468.92,595.33 470.68,595.67 472.5,596.4 C474.32,597.13 476.18,598.2 478,599.2 C479.82,600.2 481.68,601.53 483.4,602.4 C485.12,603.27 486.58,603.78 488.3,604.4 C490.02,605.02 491.88,605.67 493.7,606.1 C495.52,606.53 497.65,606.73 499.2,607 C500.75,607.27 502.18,607.4 503,607.7 C503.82,608 503.65,608.8 504.1,608.8 C504.55,608.8 504.33,607.73 505.7,607.7 C507.07,607.67 509.93,608.32 512.3,608.6 C514.67,608.88 517.18,609.22 519.9,609.4 C522.62,609.58 525.28,609.58 528.6,609.7 C531.92,609.82 537.93,610.03 539.8,610.1" fill="none" stroke="#ff00ff" stroke-width="1.3" stroke-linejoin="round"/>
<text x="42.7" y="616.1" text-anchor="end" font-size="10" fill="#262626">0</text>
<text x="42.7" y="577.17" text-anchor="end" font-size="10" fill="#262626">1</text>
<text x="42.7" y="538.25" text-anchor="end" font-size="10" fill="#262626">2</text>
<text x="42.7" y="499.32" text-anchor="end" font-size="10" fill="#262626">3</text>
<text x="42.7" y="460.4" text-anchor="end" font-size="10" fill="#262626">4</text>
<text x="46.9" y="626.1" text-anchor="middle" font-size="10" fill="#262626">2</text>
<text x="117.31" y="626.1" text-anchor="middle" font-size="10" fill="#262626">4</text>
<text x="187.73" y="626.1" text-anchor="middle" font-size="10" fill="#262626">6</text>
<text x="258.14" y="626.1" text-anchor="middle" font-size="10" fill="#262626">8</text>
<text x="328.56" y="626.1" text-anchor="middle" font-size="10" fill="#262626">10</text>
<text x="398.97" y="626.1" text-anchor="middle" font-size="10" fill="#262626">12</text>
<text x="469.39" y="626.1" text-anchor="middle" font-size="10" fill="#262626">14</text>
<text x="539.8" y="626.1" text-anchor="middle" font-size="10" fill="#262626">16</text>
<text x="293.65" y="641.3" text-anchor="middle" font-size="11" fill="#262626">Wavelength / μm</text>
<text x="294.25" y="450.5" text-anchor="middle" font-size="11" font-weight="bold" fill="#000">c) Spectral radiance contributions</text>
<text transform="translate(13.9,533.3) rotate(-90)" text-anchor="middle" font-size="11" fill="#262626">Spectral radiance</text>
<text transform="translate(32.3,533.6) rotate(-90)" text-anchor="middle" font-size="11" fill="#262626">/ W sr<tspan dy="-6" font-size="11">−1</tspan><tspan dy="6"> m</tspan><tspan dy="-6">−3</tspan></text>
<text x="47.4" y="452.6" font-size="10.5" fill="#262626">×</text>
<text x="55.0" y="453" font-size="10" fill="#262626">10</text>
<text x="65.7" y="447" font-size="8.3" fill="#262626">7</text>
<rect x="390.5" y="463.3" width="142.5" height="49.1" fill="#fff" stroke="#888" stroke-width="1.1"/>
<line x1="392.9" y1="470.3" x2="423" y2="470.3" stroke="#2222f0" stroke-width="1.3"/>
<text x="425.6" y="473.9" font-size="9" fill="#262626">Measured emission</text>
<line x1="392.9" y1="482.1" x2="423" y2="482.1" stroke="#00ee00" stroke-width="1.3"/>
<text x="425.6" y="485.7" font-size="9" fill="#262626">Measured reflection</text>
<line x1="392.9" y1="493.8" x2="423" y2="493.8" stroke="#00f0f0" stroke-width="1.3"/>
<text x="425.6" y="497.4" font-size="9" fill="#262626">Measured air emission</text>
<line x1="392.9" y1="505.5" x2="423" y2="505.5" stroke="#ff00ff" stroke-width="1.3"/>
<text x="425.6" y="509.1" font-size="9" fill="#262626">Final measurement (Sum)</text></svg>
</body></html>
